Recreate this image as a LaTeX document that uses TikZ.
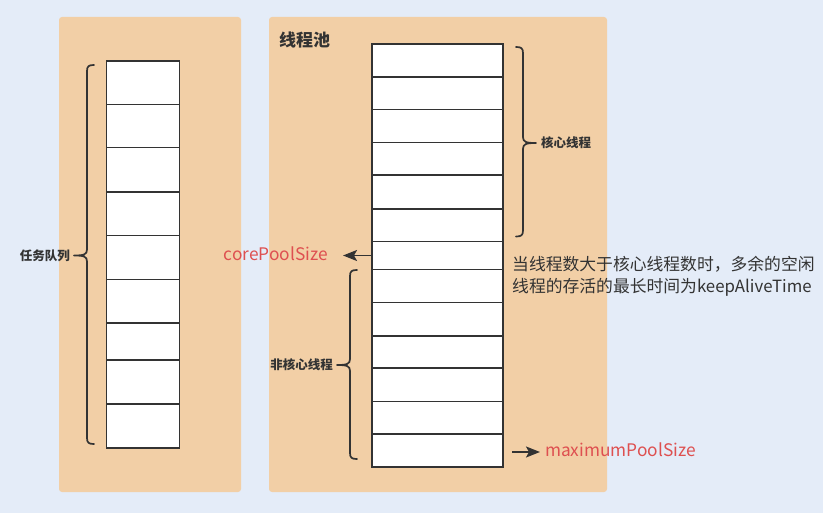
\documentclass[tikz,border=0pt]{standalone}
\usepackage{fontspec}
\setmainfont{Noto Sans CJK SC}
\usetikzlibrary{arrows.meta}
\definecolor{bgblue}{RGB}{228,236,248}
\definecolor{panel}{RGB}{242,207,166}
\definecolor{redtxt}{RGB}{222,80,80}
\definecolor{ink}{RGB}{51,51,51}
\tikzset{
  panelbox/.style={fill=panel, draw=none, rounded corners=3pt},
  qcell/.style={draw=ink, fill=white, line width=1.8pt, minimum width=73pt, inner sep=0pt, outer sep=0pt},
  pcell/.style={draw=ink, fill=white, line width=1.8pt, minimum width=131pt, inner sep=0pt, outer sep=0pt},
  br/.style={draw=ink, line width=1.7pt, line cap=round, line join=round},
  lbl/.style={text=ink, font=\fontsize{12.5}{14}\selectfont\bfseries, inner sep=0pt},
  redlbl/.style={text=redtxt, font=\fontsize{17.3}{19}\selectfont, inner sep=0pt},
  arr/.style={draw=ink, line width=1.8pt, -{Stealth[length=14pt,width=11pt,inset=3pt]}},
}
\newcommand\mybraceleft[4]{% x, y1, ym, y2 : tip points left
  \draw[br] ({#1+7},#2) .. controls ({#1+2},#2) and (#1,{#2+1}) .. (#1,{#2+6})
    -- (#1,{#3-6}) .. controls (#1,{#3-1}) and ({#1-3},#3) .. ({#1-13},#3)
    .. controls ({#1-3},#3) and (#1,{#3+1}) .. (#1,{#3+6})
    -- (#1,{#4-6}) .. controls (#1,{#4-1}) and ({#1+2},#4) .. ({#1+7},#4);}
\newcommand\mybraceright[4]{% x, y1, ym, y2 : tip points right
  \draw[br] ({#1-7},#2) .. controls ({#1-2},#2) and (#1,{#2+1}) .. (#1,{#2+6})
    -- (#1,{#3-6}) .. controls (#1,{#3-1}) and ({#1+3},#3) .. ({#1+13},#3)
    .. controls ({#1+3},#3) and (#1,{#3+1}) .. (#1,{#3+6})
    -- (#1,{#4-6}) .. controls (#1,{#4-1}) and ({#1-2},#4) .. ({#1-7},#4);}
\begin{document}
\begin{tikzpicture}[x=1pt,y=-1pt]
\useasboundingbox (0,0) rectangle (823,513);
\fill[bgblue] (0,0) rectangle (823,513);
% panels
\path[panelbox] (59,17) rectangle (241,492);
\path[panelbox] (269,17) rectangle (607,492);
% queue cells
\foreach \t/\b [count=\i] in {61.1/104.5,104.5/147.6,147.6/191.7,191.7/235.5,235.5/279.6,279.6/323.3,323.3/360.4,360.4/404.1,404.1/448.2}{
  \pgfmathsetmacro\hh{\b-\t}
  \pgfmathsetmacro\cc{(\t+\b)/2}
  \node[qcell, minimum height=\hh pt] (q\i) at (143,\cc) {};
}
% pool cells
\foreach \t/\b [count=\i] in {44.1/76.8,76.8/109.6,109.6/142.6,142.6/175.4,175.4/208.8,208.8/241.5,241.5/269.5,269.5/302.6,302.6/335.7,335.7/368.4,368.4/401.5,401.5/433.9,433.9/466.6}{
  \pgfmathsetmacro\hh{\b-\t}
  \pgfmathsetmacro\cc{(\t+\b)/2}
  \node[pcell, minimum height=\hh pt] (p\i) at (437.5,\cc) {};
}
% title
\node[text=ink, font=\fontsize{17}{19}\selectfont\bfseries, inner sep=0pt, anchor=west] (title) at (279,40) {线程池};
% braces and their labels
\mybraceleft{87}{65}{255.5}{444}
\node[lbl, anchor=east] (queue) at (70,256) {任务队列};
\mybraceright{523}{47}{143}{236.5}
\node[lbl, anchor=west] (core) at (541,143) {核心线程};
\mybraceleft{350}{270}{365}{459}
\node[lbl, anchor=east] (noncore) at (333,365) {非核心线程};
% corePoolSize
\coordinate (c1) at (343,255.5);
\draw[arr] (p7.west) -- (c1);
\node[redlbl, anchor=east] (corepool) at (328,254) {corePoolSize};
% maximumPoolSize
\coordinate (m0) at (512,452);
\coordinate (m1) at (540,452);
\draw[arr] (m0) -- (m1);
\node[redlbl, anchor=west] (maxpool) at (545,450) {maximumPoolSize};
% note
\node[text=ink, font=\fontsize{16.8}{22}\selectfont, inner sep=0pt, anchor=west, align=left] (note) at (512,276) {当线程数大于核心线程数时，多余的空闲\\线程的存活的最长时间为keepAliveTime};
\end{tikzpicture}
\end{document}
